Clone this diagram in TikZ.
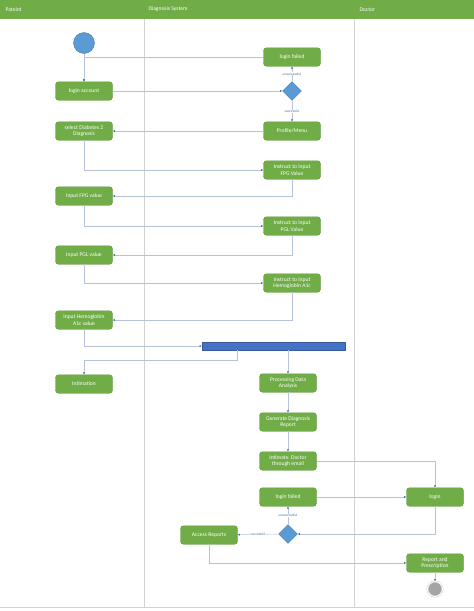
\documentclass[tikz,border=0pt]{standalone}
\usepackage{fontspec}
\setmainfont{Carlito}
\usetikzlibrary{shapes.geometric,arrows.meta}
\definecolor{actgreen}{HTML}{70AD47}
\definecolor{actblue}{HTML}{5B9BD5}
\definecolor{barblue}{HTML}{4472C4}
\definecolor{linecol}{HTML}{B4C3D8}
\definecolor{tipcol}{HTML}{4A6FA5}
\definecolor{endgray}{HTML}{A5A5A5}

\begin{document}
\begin{tikzpicture}[x=1pt,y=-1pt,
        act/.style={draw=actgreen!85!black, fill=actgreen, rounded corners=3pt,
          minimum width=57pt, minimum height=18.5pt, inner sep=1pt,
          text=white, align=center, font=\fontsize{5.6}{6.8}\selectfont},
        decision/.style={diamond, aspect=1, fill=actblue, draw=actblue!80!black,
          minimum size=19pt, inner sep=0pt},
        startnode/.style={circle, fill=actblue, draw=actblue!80!black, minimum size=21pt, inner sep=0pt},
        endnode/.style={circle, fill=endgray, draw=endgray!60, double=white, double distance=1pt,
          minimum size=15pt, inner sep=0pt},
        joinbar/.style={fill=barblue, draw=barblue!80!black, minimum width=143pt, minimum height=7.5pt, inner sep=0pt},
        flow/.style={draw=linecol, line width=.5pt, -{Latex[length=2.2pt,width=2.2pt,color=tipcol]}},
        guard/.style={fill=white, inner sep=.3pt, text=tipcol, font=\fontsize{3.6}{4}\selectfont},
        lane/.style={draw=gray!35, line width=.5pt},
        head/.style={anchor=west, text=white, font=\fontsize{5.6}{6.8}\selectfont}]
        \useasboundingbox (0,0) rectangle (474,611);

        % swimlanes
        \fill[actgreen] (0,0) rectangle (474,19);
        \draw[lane] (144,19) -- (144,607);
        \draw[lane] (354,19) -- (354,607);
        \draw[lane] (0,607) -- (474,607);
        \node[head] at (2,9.5)   {Pateint};
        \node[head] at (145,9.5) {Diagnosis System};
        \node[head] at (356,9.5) {Doctor};

        % Pateint
        \node[startnode] (start) at (84,43) {};
        \node[act] (login)  at (84,91)  {login account};
        \node[act] (select) at (84,131) {select Diabetes 2\\Diagnosis};
        \node[act] (fpg)    at (84,196) {Input FPG value};
        \node[act] (pgl)    at (84,255) {Input PGL value};
        \node[act] (hba)    at (84,320) {Input Hemoglobin\\A1c value};
        \node[act] (intim)  at (84,384) {Intimation};

        % Diagnosis System
        \node[act] (failA)  at (292,57)  {login failed};
        \node[decision] (chkA) at (292,91) {};
        \node[act] (menu)   at (292,131) {Profile/Menu};
        \node[act] (askfpg) at (292,170) {Instruct to input\\FPG Value};
        \node[act] (askpgl) at (292,226) {Instruct to input\\PGL Value};
        \node[act] (askhba) at (292,283) {Instruct to input\\Hemoglobin A1c};
        \node[joinbar] (join) at (273.5,346) {};
        \node[act] (proc)   at (288,383) {Processing Data\\Analysis};
        \node[act] (report) at (288,422) {Generate Diagnosis\\Report};
        \node[act] (notify) at (288,461) {Intimate\ \ Doctor\\through email};
        \node[act] (failB)  at (288,497) {login failed};
        \node[decision] (chkB) at (288,534) {};
        \node[act] (access) at (209,535) {Access Reports};

        % Doctor
        \node[act] (doclogin) at (435,497) {login};
        \node[act] (presc)    at (435,563) {Report and\\Prescription};
        \node[endnode] (stop) at (435,589) {};

        \coordinate (fork) at (237,360);

        \draw[flow] (start) -- (login);
        \draw[flow] (failA.west) -| (login.north);
        \draw[flow] (login) -- (chkA);
        \draw[flow] (chkA) -- node[guard]{unsuccessful} (failA);
        \draw[flow] (chkA) -- node[guard]{successful} (menu);
        \draw[flow] (menu) -- (select);
        \draw[flow] (select) |- (askfpg);
        \draw[flow] (askfpg) |- (fpg);
        \draw[flow] (fpg) |- (askpgl);
        \draw[flow] (askpgl) |- (pgl);
        \draw[flow] (pgl) |- (askhba);
        \draw[flow] (askhba) |- (hba);
        \draw[flow] (hba) |- (join);
        \draw[flow] (join.south -| fork) -- (fork) -| (intim);
        \draw[flow] (join.south -| proc) -- (proc);
        \draw[flow] (proc) -- (report);
        \draw[flow] (report) -- (notify);
        \draw[flow] (notify) -| (doclogin);
        \draw[flow] (failB) -- (doclogin);
        \draw[flow] (doclogin) |- (chkB);
        \draw[flow] (chkB) -- node[guard]{unsuccessful} (failB);
        \draw[flow] (chkB) -- node[guard]{successful} (access);
        \draw[flow] (access) |- (presc);
        \draw[flow] (presc) -- (stop);
      \end{tikzpicture}
\end{document}
